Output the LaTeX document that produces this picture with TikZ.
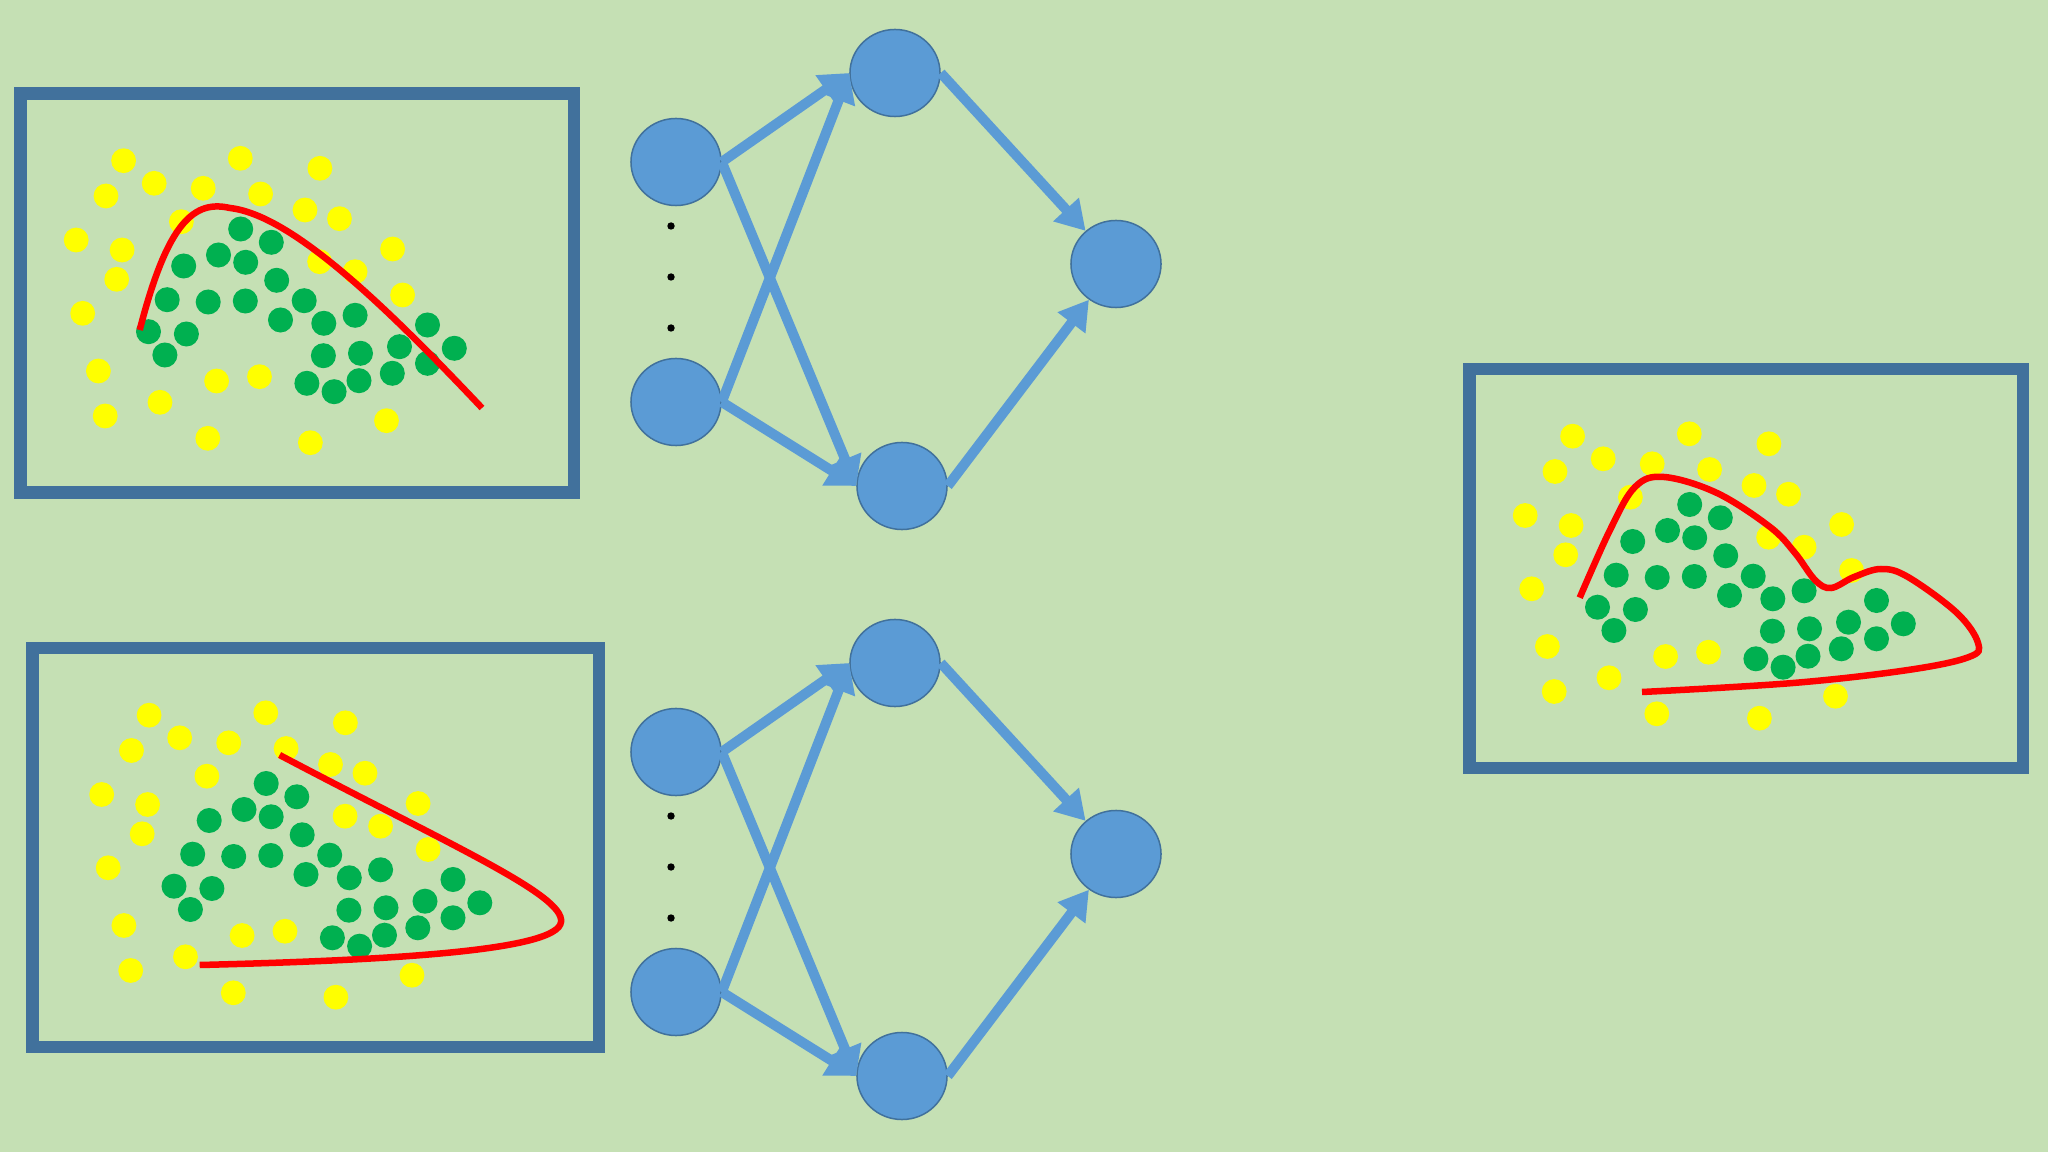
\documentclass[tikz,border=0pt]{standalone}
\usepackage{xcolor}
\usepackage{tikz}
\usetikzlibrary{arrows.meta,shapes.geometric}
\definecolor{backg}{HTML}{C5E0B4}
\definecolor{boxline}{HTML}{41719C}
\definecolor{neuron}{HTML}{5B9BD5}
\definecolor{classa}{HTML}{FFFF00}
\definecolor{classb}{HTML}{00B050}
\definecolor{fit}{HTML}{FF0000}

% same scatter of points in every panel
\newcommand{\pointcloud}{
	\foreach \px/\py in {123.6/160.7,240.3/158.3,319.9/168.3,154.2/183.3,106/196,203.2/188.3,260.6/194,305/210,339.5/218.7,181.4/221.7,76.2/240,122.1/250,392.6/249,319.6/261.7,355.1/271.7,116.7/279.3,402.6/295,82.7/313.3,98.4/371,216.6/381,259.5/376.7,160/402.3,105.2/416,386.5/420.7,207.8/438.3,310.4/442.7}
		\fill[classa] (\px,\py) circle[radius=0.124cm];
	\foreach \px/\py in {240.7/229,271.3/242.3,218.5/255,245.7/262.3,183.7/266,276.7/280.3,167.2/299.7,208.2/302,245.3/301,304.2/300.7,280.5/320,323.8/323.3,355.1/315.3,427.5/325,148.5/331.7,186.4/334,454.3/348.3,399.5/346.7,323.4/355.7,360.5/353.3,427.5/363.3,164.9/355,392.3/373.3,359/380.7,306.9/383.3,334.1/391.7}
		\fill[classb] (\px,\py) circle[radius=0.125cm];
}

\begin{document}
\begin{tikzpicture}[x=0.01cm, y=-0.01cm,
		unit/.style={ellipse, draw=boxline, line width=0.015cm, fill=neuron, minimum width=0.9cm, minimum height=0.87cm, inner sep=0pt},
		link/.style={draw=neuron, line width=0.1cm, -{Triangle[length=0.29cm,width=0.33cm]}},
		panel/.style={draw=boxline, line width=0.125cm},
		boundary/.style={draw=fit, line width=0.065cm}]
	\fill[backg] (0,0) rectangle (2048,1152);
	\useasboundingbox (0,0) rectangle (2048,1152);
	
	% top left panel
	\pointcloud
	\draw[panel] (20.7,93.7) rectangle (573.8,492.3);
	\draw[boundary] (139.7,330) .. controls (168,220) and (195,200) .. (230,208) .. controls (290,215) and (380,300) .. (482,408);
	
	% bottom left panel
	\begin{scope}[shift={(25.5,554.5)}]
		\pointcloud
	\end{scope}
	\draw[panel] (32.7,648) rectangle (599,1047);
	\draw[boundary] (279.6,755) .. controls (450,845) and (565,895) .. (561,922) .. controls (558,950) and (400,960) .. (199.7,965);
	
	% right panel
	\begin{scope}[shift={(1449,275.5)}]
		\pointcloud
	\end{scope}
	\draw[panel] (1469.7,369.2) rectangle (2022.8,767.8);
	\draw[boundary] plot[smooth, tension=0.6] coordinates {(1579.7,597.7) (1610,530) (1635,487) (1664,477) (1717,493) (1770,527) (1795,553) (1815,580) (1831,588) (1854,577) (1881,569) (1908,577) (1957,613) (1978,643) (1969,657) (1908,670) (1793,683) (1642,692)};
	
	% the two networks
	\foreach \n/\dy in {a/0, b/590}{
		\begin{scope}[shift={(0,\dy)}]
			\node[unit] (\n-in1) at (676,162) {};
			\node[unit] (\n-in2) at (676,402) {};
			\node[unit] (\n-h1) at (895,73) {};
			\node[unit] (\n-h2) at (902,486) {};
			\node[unit] (\n-out) at (1116,264) {};
			\foreach \vy in {226,277,328}
				\fill[black] (671,\vy) circle[radius=0.037cm];
			
			\draw[link] (\n-in1.east) -- (\n-h1.west);
			\draw[link] (\n-in1.east) -- (\n-h2.west);
			\draw[link] (\n-in2.east) -- (\n-h1.west);
			\draw[link] (\n-in2.east) -- (\n-h2.west);
			\draw[link] (\n-h1.east) -- (\n-out);
			\draw[link] (\n-h2.east) -- (\n-out);
		\end{scope}
	}
\end{tikzpicture}
\end{document}
